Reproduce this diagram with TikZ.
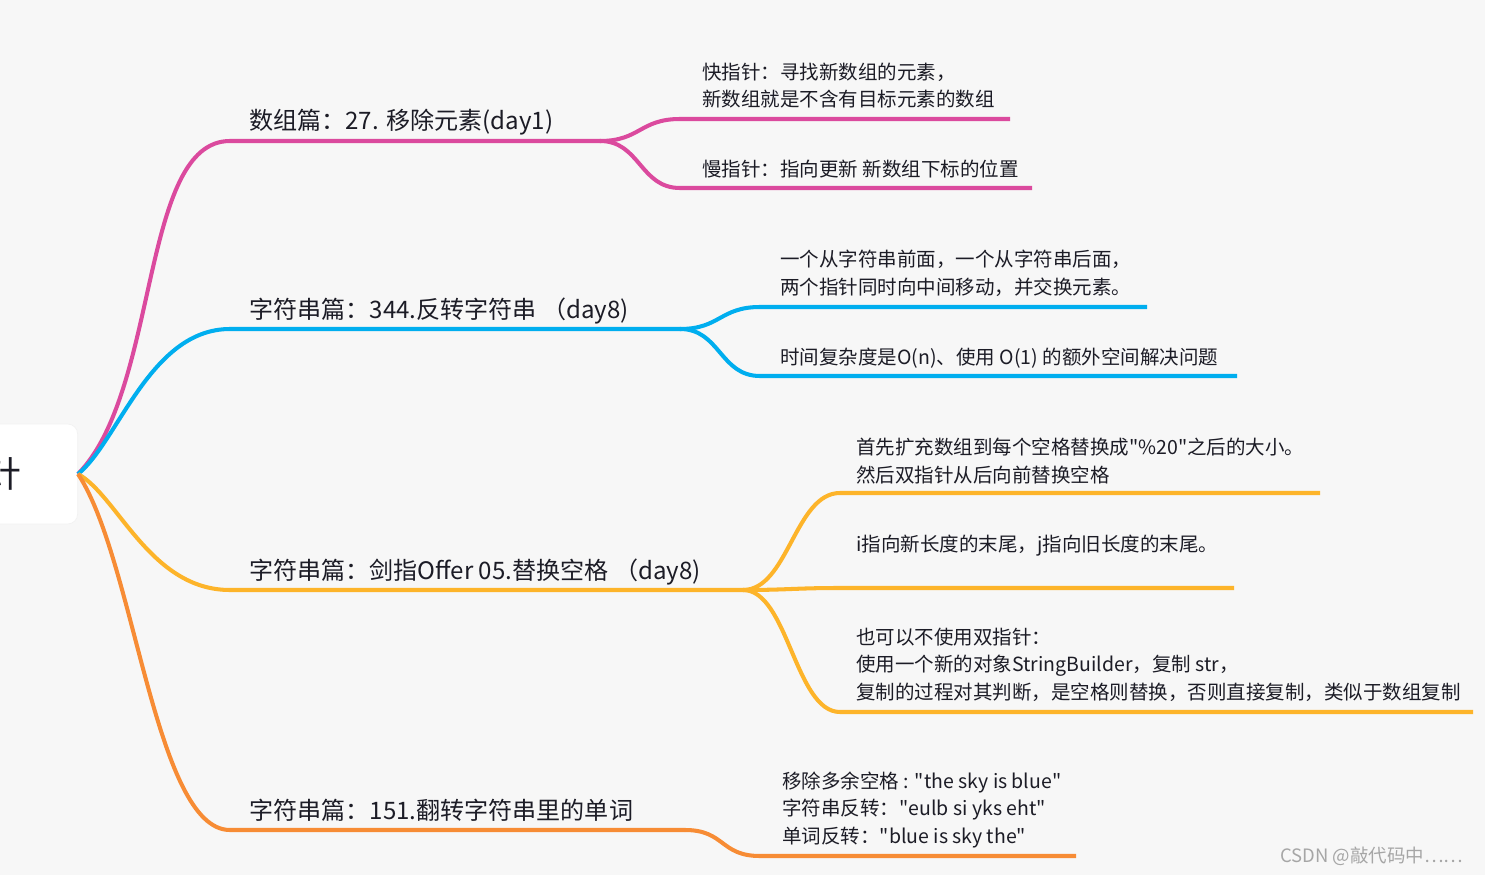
\documentclass[tikz,border=0pt]{standalone}
\usepackage{fontspec}
\setmainfont{Noto Sans CJK SC}
\usetikzlibrary{calc}
\definecolor{mappink}{RGB}{219,74,158}
\definecolor{mapblue}{RGB}{0,174,239}
\definecolor{mapyellow}{RGB}{253,180,42}
\definecolor{maporange}{RGB}{247,140,53}
\definecolor{mapbg}{RGB}{247,247,247}
\definecolor{maptext}{RGB}{28,28,38}
\newcommand{\qd}{\textquotedbl}

\begin{document}
\begin{tikzpicture}[x=0.02cm,y=-0.02cm,
    branch/.style={line width=2.3pt},
    topic/.style={anchor=base west,inner sep=0pt,text=maptext,font=\fontsize{13.7}{16}\selectfont},
    leaf/.style={anchor=base west,inner sep=0pt,text=maptext,align=left,font=\fontsize{11.1}{15.4}\selectfont}]
    \useasboundingbox (0,0) rectangle (1485,875);
    \fill[mapbg] (0,0) rectangle (1485,875);
    \node (root) [anchor=east,fill=white,draw=black!5,rounded corners=5.7pt,minimum height=2cm,
        text width=2.3cm,align=right,inner xsep=1.12cm,text=maptext,
        font=\fontsize{20.5}{24}\selectfont] at (78,474) {双指针};
    % 数组篇
    \node[topic] (t1) at (249,130) {数组篇：27. 移除元素(day1)};
    \coordinate (b1) at (230,141);
    \coordinate (j1) at (600,141);
    \draw[branch,mappink] (root.east) .. controls (160,390) and (140,141) .. (b1) -- (j1);
    \node[leaf] (l11) at (702,107) {快指针：寻找新数组的元素，\\新数组就是不含有目标元素的数组};
    \coordinate (l11a) at (680,119);
    \coordinate (l11b) at (1010,119);
    \draw[branch,mappink] (j1) .. controls +(40,0) and +(-40,0) .. (l11a) -- (l11b);
    \node[leaf] (l12) at (702,176) {慢指针：指向更新 新数组下标的位置};
    \coordinate (l12a) at (680,188);
    \coordinate (l12b) at (1032,188);
    \draw[branch,mappink] (j1) .. controls +(40,0) and +(-40,0) .. (l12a) -- (l12b);
    % 反转字符串
    \node[topic] (t2) at (249,318) {字符串篇：344.反转字符串 （day8)};
    \coordinate (b2) at (230,329);
    \coordinate (j2) at (680,329);
    \draw[branch,mapblue] (root.east) .. controls (118,442) and (150,329) .. (b2) -- (j2);
    \node[leaf] (l21) at (780,294) {一个从字符串前面，一个从字符串后面，\\两个指针同时向中间移动，并交换元素。};
    \coordinate (l21a) at (760,307);
    \coordinate (l21b) at (1147,307);
    \draw[branch,mapblue] (j2) .. controls +(40,0) and +(-40,0) .. (l21a) -- (l21b);
    \node[leaf] (l22) at (780,364) {时间复杂度是O(n)、使用 O(1) 的额外空间解决问题};
    \coordinate (l22a) at (760,376);
    \coordinate (l22b) at (1237,376);
    \draw[branch,mapblue] (j2) .. controls +(40,0) and +(-40,0) .. (l22a) -- (l22b);
    % 替换空格
    \node[topic] (t3) at (249,579) {字符串篇：剑指Offer 05.替换空格 （day8)};
    \coordinate (b3) at (230,590);
    \coordinate (j3) at (743,590);
    \draw[branch,mapyellow] (root.east) .. controls (118,496) and (150,590) .. (b3) -- (j3);
    \node[leaf] (l31) at (856,482) {首先扩充数组到每个空格替换成\qd\%20\qd 之后的大小。\\然后双指针从后向前替换空格};
    \coordinate (l31a) at (840,493);
    \coordinate (l31b) at (1320,493);
    \draw[branch,mapyellow] (j3) .. controls +(45,0) and +(-45,0) .. (l31a) -- (l31b);
    \node[leaf] (l32) at (856,551) {i指向新长度的末尾，j指向旧长度的末尾。};
    \coordinate (l32a) at (840,588);
    \coordinate (l32b) at (1234,588);
    \draw[branch,mapyellow] (j3) .. controls +(45,0) and +(-45,0) .. (l32a) -- (l32b);
    \node[leaf] (l33) at (856,699) {也可以不使用双指针：\\使用一个新的对象StringBuilder，复制 str，\\复制的过程对其判断，是空格则替换，否则直接复制，类似于数组复制};
    \coordinate (l33a) at (840,712);
    \coordinate (l33b) at (1473,712);
    \draw[branch,mapyellow] (j3) .. controls +(45,0) and +(-45,0) .. (l33a) -- (l33b);
    % 翻转单词
    \node[topic] (t4) at (249,819) {字符串篇：151.翻转字符串里的单词};
    \coordinate (b4) at (230,830);
    \coordinate (j4) at (685,830);
    \draw[branch,maporange] (root.east) .. controls (135,560) and (155,830) .. (b4) -- (j4);
    \node[leaf] (l41) at (782,843) {移除多余空格 : \qd the sky is blue\qd\\字符串反转：\qd eulb si yks eht\qd\\单词反转：\qd blue is sky the\qd};
    \coordinate (l41a) at (760,856);
    \coordinate (l41b) at (1076,856);
    \draw[branch,maporange] (j4) .. controls +(40,0) and +(-40,0) .. (l41a) -- (l41b);
    \node[anchor=base west,inner sep=0pt,text=black!35,font=\fontsize{10.5}{12}\selectfont] (mark) at (1280,862) {CSDN @敲代码中……};
\end{tikzpicture}
\end{document}
